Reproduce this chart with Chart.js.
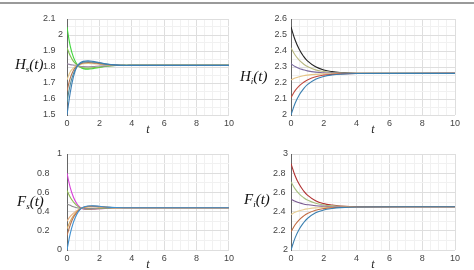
<!DOCTYPE html>
<html><head><meta charset="utf-8">
<script src="https://cdn.jsdelivr.net/npm/chart.js@4.4.1/dist/chart.umd.min.js"></script>
<style>
html,body{margin:0;padding:0;background:#fff;width:474px;height:270px;overflow:hidden;position:relative}
canvas{position:absolute}
.lab{position:absolute;font-family:"Liberation Serif",serif;font-style:italic;font-size:15px;color:#111;white-space:nowrap;line-height:15px}
.lab sub{font-size:9px;vertical-align:-3px;line-height:0}
#topline{position:absolute;left:0;top:2px;width:474px;height:2px;background:#9a9a9a}
</style></head><body>
<div id="topline"></div>
<canvas id="c1" width="237" height="135" style="left:0;top:0"></canvas>
<canvas id="c2" width="237" height="135" style="left:237px;top:0"></canvas>
<canvas id="c3" width="237" height="135" style="left:0;top:135px"></canvas>
<canvas id="c4" width="237" height="135" style="left:237px;top:135px"></canvas>
<div class="lab" style="left:15px;top:57px">H<sub>s</sub>(t)</div>
<div class="lab" style="left:240px;top:69px">H<sub>i</sub>(t)</div>
<div class="lab" style="left:17px;top:194px">F<sub>s</sub>(t)</div>
<div class="lab" style="left:244px;top:192px">F<sub>i</sub>(t)</div>
<script>
// time grids
const tOsc = [0,0.2,0.4,0.6,0.8,1.0,1.3,1.6,2.0,2.5,3.0,3.5,4,10];
const tExp = [0,0.25,0.5,0.75,1,1.5,2,2.5,3,4,10];
const xTickLabels = ['0','2','4','6','8','10'];

// H_s(t)
const Hs1 = [1.50,1.64,1.74,1.80,1.825,1.835,1.838,1.835,1.828,1.818,1.813,1.811,1.81,1.81];
const Hs2 = [1.58,1.69,1.76,1.80,1.822,1.83,1.833,1.83,1.825,1.817,1.812,1.81,1.81,1.81];
const Hs3 = [1.65,1.73,1.78,1.805,1.818,1.825,1.828,1.826,1.821,1.815,1.812,1.81,1.81,1.81];
const Hs4 = [1.72,1.77,1.795,1.808,1.815,1.82,1.822,1.82,1.817,1.813,1.811,1.81,1.81,1.81];
const Hs5 = [1.82,1.815,1.812,1.81,1.805,1.803,1.802,1.803,1.806,1.808,1.81,1.81,1.81,1.81];
const Hs6 = [1.92,1.87,1.835,1.815,1.80,1.795,1.793,1.795,1.80,1.806,1.809,1.81,1.81,1.81];
const Hs7 = [2.05,1.93,1.86,1.82,1.80,1.79,1.787,1.79,1.797,1.805,1.809,1.81,1.81,1.81];

// H_i(t)
const Hi1 = [2.00,2.073,2.125,2.162,2.19,2.224,2.241,2.25,2.255,2.259,2.26];
const Hi2 = [2.11,2.152,2.182,2.203,2.219,2.239,2.249,2.254,2.257,2.259,2.26];
const Hi3 = [2.22,2.231,2.239,2.245,2.249,2.254,2.257,2.258,2.259,2.26,2.26];
const Hi4 = [2.32,2.303,2.291,2.283,2.276,2.268,2.264,2.262,2.261,2.26,2.26];
const Hi5 = [2.42,2.375,2.343,2.32,2.303,2.282,2.272,2.266,2.263,2.261,2.26];
const Hi6 = [2.55,2.469,2.411,2.369,2.338,2.301,2.281,2.271,2.266,2.261,2.26];

// F_s(t)
const Fs1 = [0,0.17,0.29,0.37,0.42,0.445,0.458,0.46,0.455,0.447,0.442,0.44,0.44,0.44];
const Fs2 = [0.15,0.26,0.34,0.39,0.425,0.443,0.455,0.457,0.452,0.446,0.442,0.44,0.44,0.44];
const Fs3 = [0.22,0.30,0.36,0.40,0.428,0.442,0.452,0.454,0.45,0.445,0.441,0.44,0.44,0.44];
const Fs4 = [0.30,0.35,0.385,0.41,0.43,0.441,0.449,0.45,0.448,0.444,0.441,0.44,0.44,0.44];
const Fs5 = [0.48,0.465,0.45,0.44,0.434,0.432,0.432,0.434,0.437,0.439,0.44,0.44,0.44,0.44];
const Fs6 = [0.62,0.55,0.50,0.465,0.44,0.43,0.426,0.427,0.431,0.436,0.439,0.44,0.44,0.44];
const Fs7 = [0.80,0.65,0.55,0.485,0.445,0.428,0.422,0.424,0.429,0.435,0.439,0.44,0.44,0.44];

// F_i(t)
const Fi1 = [2.0,2.126,2.216,2.28,2.328,2.387,2.417,2.432,2.441,2.448,2.45];
const Fi2 = [2.19,2.263,2.315,2.352,2.38,2.414,2.431,2.44,2.445,2.449,2.45];
const Fi3 = [2.37,2.392,2.408,2.42,2.428,2.439,2.444,2.447,2.448,2.45,2.45];
const Fi4 = [2.53,2.508,2.492,2.48,2.472,2.461,2.456,2.453,2.452,2.45,2.45];
const Fi5 = [2.71,2.637,2.585,2.548,2.52,2.486,2.469,2.46,2.455,2.451,2.45];
const Fi6 = [2.9,2.774,2.684,2.62,2.572,2.513,2.483,2.468,2.459,2.452,2.45];

const colHs = ['#3d7fb5','#4f8a9a','#b5734f','#e8c98a','#9b8aa5','#7bbf4c','#3fd63a'];
const colHi = ['#3a7fb0','#c04a40','#e6c585','#7a6aa0','#b8b880','#222222'];
const colFs = ['#3d8fd0','#b5734f','#d9a860','#e8b080','#8d8d8d','#8fb850','#d83fd8'];
const colFi = ['#3a7fb0','#c06a40','#e8cf95','#7a5a90','#a8c080','#b03030'];

function isMult(v, step){ const r = v/step; return Math.abs(r - Math.round(r)) < 1e-6; }

function makeChart(id, t, series, colors, yMin, yMax, yMajor, yWidth, padRight, tickPad, decPad){
  new Chart(document.getElementById(id), {
    type:'line',
    data:{datasets: series.map((s,i)=>({
      data: s.map((v,j)=>({x:t[j], y:v})),
      borderColor: colors[i], borderWidth:1.1, pointRadius:0, tension:0.4, fill:false
    }))},
    options:{
      animation:false, responsive:false,
      plugins:{legend:{display:false}, tooltip:{enabled:false}},
      layout:{padding:{left:0, right:padRight, top:19, bottom:0}},
      scales:{
        x:{type:'linear', min:0, max:10,
          ticks:{stepSize:0.5, autoSkip:false, maxRotation:0, padding:3,
            font:{size:9, family:'Liberation Sans'}, color:'#444',
            callback:v=> isMult(v,2) ? xTickLabels[Math.round(v/2)] : ''},
          grid:{drawTicks:false, color:c=> isMult(c.tick.value,2) ? '#dedede' : '#f1f1f1', lineWidth:1},
          border:{display:false},
          title:{display:true, text:'t', font:{family:'Liberation Serif', style:'italic', size:12}, color:'#222', padding:{top:0,bottom:-2}},
          afterFit:s=>{s.height=20;}
        },
        y:{min:yMin, max:yMax,
          ticks:{stepSize:yMajor/2, autoSkip:false, padding:tickPad,
            font:{size:9, family:'Liberation Sans'}, color:'#444',
            callback:v=> {
              if(!isMult(v,yMajor)) return '';
              const s = String(Number(v.toFixed(2)));
              return s.indexOf('.')>=0 ? s + decPad : s;
            }},
          grid:{drawTicks:false, color:c=> isMult(c.tick.value,yMajor) ? '#dedede' : '#f1f1f1', lineWidth:1},
          border:{display:true, color:'#666', width:1},
          afterFit:s=>{s.width=yWidth;}
        }
      }
    }
  });
}

makeChart('c1', tOsc, [Hs1,Hs2,Hs3,Hs4,Hs5,Hs6,Hs7], colHs, 1.5, 2.1, 0.1, 67, 5, 4, '   ');
makeChart('c2', tExp, [Hi1,Hi2,Hi3,Hi4,Hi5,Hi6], colHi, 2.0, 2.6, 0.1, 54, 19, 4, '');
makeChart('c3', tOsc, [Fs1,Fs2,Fs3,Fs4,Fs5,Fs6,Fs7], colFs, 0, 1, 0.2, 67, 5, 5, '     ');
makeChart('c4', tExp, [Fi1,Fi2,Fi3,Fi4,Fi5,Fi6], colFi, 2, 3, 0.2, 54, 19, 3, ' ');
</script>
</body></html>
